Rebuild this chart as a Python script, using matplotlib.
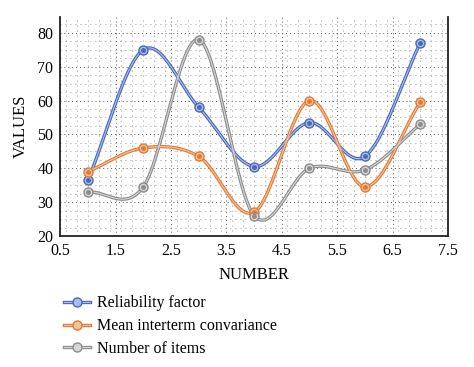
import numpy as np
import matplotlib
matplotlib.use("Agg")
import matplotlib.pyplot as plt
from matplotlib.ticker import MultipleLocator

# ── Data ───────────────────────────────────────────────────────────────────────
numbers     = [1, 2, 3, 4, 5, 6, 7]
reliability = [36.5, 75.0, 58.0, 40.5, 53.5, 43.5, 77.0]
interterm   = [39.0, 46.0, 43.5, 27.0, 60.0, 34.5, 59.5]
n_items     = [33.0, 34.5, 78.0, 26.0, 40.0, 39.5, 53.0]

labels = ["Reliability factor", "Mean interterm convariance", "Number of items"]
x_ticks = [0.5, 1.5, 2.5, 3.5, 4.5, 5.5, 6.5, 7.5]
y_ticks = [20, 30, 40, 50, 60, 70, 80]

STYLES = [
    {"dark": "#4a68b8", "light": "#a9bdf0"},
    {"dark": "#e07a35", "light": "#f7c29a"},
    {"dark": "#8c8c8c", "light": "#d6d6d6"},
]

plt.rcParams["font.family"] = ["Liberation Serif", "DejaVu Serif"]


def smooth(xs, ys, n=30):
    """Catmull-Rom curve through the points (like a spreadsheet 'smoothed line')."""
    xs = np.asarray(xs, float)
    ys = np.asarray(ys, float)
    px = np.concatenate([[2 * xs[0] - xs[1]], xs, [2 * xs[-1] - xs[-2]]])
    py = np.concatenate([[2 * ys[0] - ys[1]], ys, [2 * ys[-1] - ys[-2]]])
    out_x, out_y = [], []
    t = np.linspace(0, 1, n)
    for i in range(1, len(px) - 2):
        for p, out in ((px, out_x), (py, out_y)):
            p0, p1, p2, p3 = p[i - 1], p[i], p[i + 1], p[i + 2]
            seg = 0.5 * ((2 * p1) + (-p0 + p2) * t
                         + (2 * p0 - 5 * p1 + 4 * p2 - p3) * t ** 2
                         + (-p0 + 3 * p1 - 3 * p2 + p3) * t ** 3)
            out.extend(seg)
    return np.array(out_x), np.array(out_y)


fig = plt.figure(figsize=(4.74, 3.67), dpi=100)
ax = fig.add_axes([0.127, 0.357, 0.818, 0.597])

handles = []
for ys, st, lbl in zip([reliability, interterm, n_items], STYLES, labels):
    sx, sy = smooth(numbers, ys)
    ax.plot(sx, sy, color=st["dark"], lw=2.4, solid_capstyle="round", zorder=3)
    ax.plot(sx, sy, color=st["light"], lw=0.8, zorder=4)
    ax.plot(numbers, ys, ls="none", marker="o", ms=6.5, mfc=st["light"],
            mec=st["dark"], mew=1.0, zorder=5)
    ax.plot(numbers, ys, ls="none", marker="o", ms=2.5, mfc=st["dark"],
            mec=st["dark"], zorder=6)
    # legend proxy
    h1, = ax.plot([], [], color=st["dark"], lw=2.4)
    h2, = ax.plot([], [], color=st["light"], lw=0.8, marker="o", ms=6.5,
                  mfc=st["light"], mec=st["dark"], mew=1.0)
    handles.append((h1, h2))

ax.set_xlim(0.5, 7.5)
ax.set_ylim(20, 84.7)
ax.set_xticks(x_ticks)
ax.set_yticks(y_ticks)
ax.set_xticklabels([f"{v:g}" for v in x_ticks])
ax.xaxis.set_minor_locator(MultipleLocator(0.2))
ax.yaxis.set_minor_locator(MultipleLocator(2.5))
ax.tick_params(which="both", length=0, labelsize=11.5, pad=5)

ax.grid(True, which="major", ls=(0, (1, 3)), color="#555555", lw=0.7)
ax.grid(True, which="minor", ls=(0, (1, 5)), color="#777777", lw=0.6)
ax.set_axisbelow(True)

ax.spines["top"].set_visible(False)
for s in ("left", "bottom", "right"):
    ax.spines[s].set_linewidth(1.3)
    ax.spines[s].set_color("#222222")

ax.set_xlabel("NUMBER", fontsize=12, labelpad=6)
ax.set_ylabel("VALUES", fontsize=12, labelpad=6)

fig.legend(handles, labels, loc="upper left", bbox_to_anchor=(0.105, 0.234),
           frameon=False, fontsize=11.5, handlelength=1.6, handletextpad=0.45,
           labelspacing=0.42)

fig.savefig("out.png", dpi=100)
